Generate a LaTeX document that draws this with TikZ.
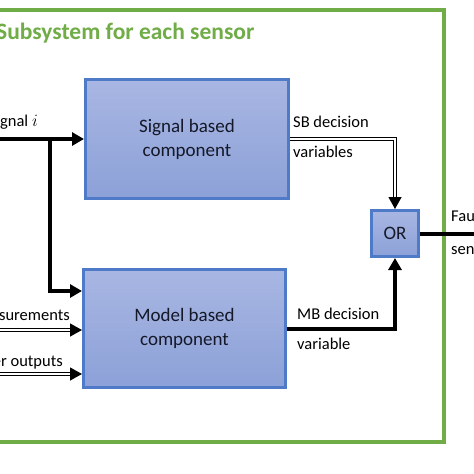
\documentclass[tikz,border=0pt]{standalone}
\usepackage{fontspec}
\setmainfont{Carlito}
\usetikzlibrary{arrows.meta,positioning,calc}
\definecolor{frameGreen}{RGB}{112,173,71}
\definecolor{boxBlue}{RGB}{79,122,199}
\definecolor{boxTop}{RGB}{168,182,226}
\definecolor{boxBot}{RGB}{140,161,216}
\definecolor{boxText}{RGB}{20,24,40}

\begin{document}
\begin{tikzpicture}[x=1pt, y=-1pt, >={Triangle[length=12pt,width=13pt]}]
\tikzstyle{block}=[draw=boxBlue, line width=3pt, top color=boxTop, bottom color=boxBot, text=boxText, align=center, font=\fontsize{19}{24}\selectfont, inner sep=0pt]
\tikzstyle{txt}=[font=\fontsize{16.5}{19}\selectfont, inner sep=0pt]
\tikzstyle{bus}=[line width=4pt]
\tikzstyle{dbl}=[double, double distance=1.8pt, line width=1.3pt]

\useasboundingbox (0,0) rectangle (474,474);
\clip (0,0) rectangle (474,474);
\fill[white] (0,0) rectangle (474,474);

% frame of the subsystem
\draw[frameGreen, line width=4pt] (-20,10) rectangle (444,442);
\node[anchor=west, text=frameGreen, font=\bfseries\fontsize{23.5}{28}\selectfont, inner sep=0pt] (title) at (-4,33) {Subsystem for each sensor};

% blocks
\node[block, minimum width=203pt, minimum height=119pt] (sig) at (187,139) {Signal based\\component};
\node[block, minimum width=202pt, minimum height=118pt] (mod) at (184.5,328.5) {Model based\\component};
\node[block, minimum width=47pt, minimum height=46pt] (or) at (395,233.5) {OR};

% free ends
\coordinate (sigin) at (-10,139);
\coordinate (split) at (50,139);
\coordinate (modin) at ([yshift=-23pt]mod.north west);
\coordinate (measin) at (-10,330);
\coordinate (othin) at (-10,374);
\coordinate (faultout) at (480,233.5);

% connectors
\draw[bus,->] (sigin) -- (sig.west);
\draw[bus,->] (split) |- (modin);
\draw[dbl,->] (measin) -- (measin -| mod.west);
\draw[dbl,->] (othin) -- (othin -| mod.west);
\draw[dbl,->] (sig.east) -| (or.north);
\draw[bus,->] (mod.east) -| (or.south);
\draw[bus] (or.east) -- (faultout);

% labels
\node[txt, anchor=east] (sigtxt) at (38,122) {Signal $i$};
\node[txt, anchor=east] (meastxt) at (70,315) {Measurements};
\node[txt, anchor=east] (othtxt) at (63,362) {Other outputs};
\node[txt, anchor=west] (sbtxt) at (293,122) {SB decision};
\node[txt, anchor=west] (sbtxt2) at (293,152) {variables};
\node[txt, anchor=west] (mbtxt) at (297,314) {MB decision};
\node[txt, anchor=west] (mbtxt2) at (297,344) {variable};
\node[txt, anchor=west] (fttxt) at (451,216) {Fault};
\node[txt, anchor=west] (fttxt2) at (451,251) {sensor};
\end{tikzpicture}
\end{document}
